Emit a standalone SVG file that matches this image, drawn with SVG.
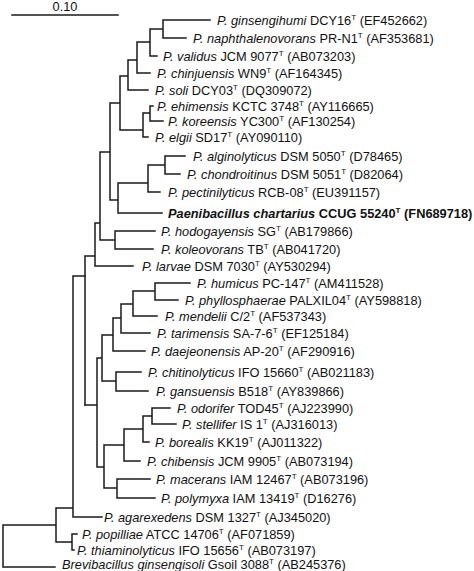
<svg xmlns="http://www.w3.org/2000/svg" width="474" height="571" viewBox="0 0 474 571">
<style>
text{font-family:"Liberation Sans",Arial,sans-serif;font-size:12.8px;fill:#111}
.i{font-style:italic}
.b{font-weight:bold}
.br{fill:none;stroke:#1a1a1a;stroke-width:1.5;stroke-linecap:square}
</style>
<rect width="474" height="571" fill="#fff"/>
<g id="scalebar">
<path class="br" d="M12 15H118"/>
<text x="65" y="11" text-anchor="middle">0.10</text>
</g>
<g id="connectors">
<path class="br" d="M163 20V38M163 20H210M163 38H186M150 29H163M150 29V56M150 56H157M137 42H150M137 42V73M137 73H150M128 60H137M128 60V90M128 90H148M120 76H128M150 106V121M150 106H153M150 121H163M143 113H150M143 113V137M143 137H148M120 130H143M120 76V130M110 103H120M165 156V174M165 156H185M165 174H180M148 165H165M148 165V192M148 192H160M118 183H148M118 183V213M118 213H162M110 200H118M110 103V200M100 152H110M115 231V249M115 231H155M115 249H153M100 240H115M100 152V240M95 223H100M95 223V266M95 266H133M85 256H95M85 256V405"/>
<path class="br" d="M155 283V300M155 283H190M155 300H178M133 291H155M133 291V316M133 316H157M121 304H133M121 304V333M121 333H150M113 318H121M113 318V351M113 351H145M102 335H113M116 372V391M116 372H141M116 391H148M102 381H116M102 335V381M97 358H102M152 408V424M152 408H170M152 424H176M143 416H152M143 416V442M143 442H149M124 429H143M124 429V461M124 461H140M104 445H124M117 479V498M117 479H150M117 498H155M104 488H117M104 445V488M97 467H104M97 358V467M85 405H97M73 276H85M73 276V517M73 517H102M56 508H73M72 534V550M72 534H77M72 550H74M56 542H72M56 508V542M3 525H56M3 525V567M3 567H55"/>
</g>
<g id="leaf01"><text x="217" y="24.5"><tspan class="i">P. ginsengihumi</tspan> DCY16<tspan font-size="8" dy="-5">T</tspan><tspan dy="5"> (EF452662)</tspan></text></g>
<g id="leaf02"><text x="193" y="42.5"><tspan class="i">P. naphthalenovorans</tspan> PR-N1<tspan font-size="8" dy="-5">T</tspan><tspan dy="5"> (AF353681)</tspan></text></g>
<g id="leaf03"><text x="163" y="60.5"><tspan class="i">P. validus</tspan> JCM 9077<tspan font-size="8" dy="-5">T</tspan><tspan dy="5"> (AB073203)</tspan></text></g>
<g id="leaf04"><text x="157" y="77.5"><tspan class="i">P. chinjuensis</tspan> WN9<tspan font-size="8" dy="-5">T</tspan><tspan dy="5"> (AF164345)</tspan></text></g>
<g id="leaf05"><text x="155" y="94.5"><tspan class="i">P. soli</tspan> DCY03<tspan font-size="8" dy="-5">T</tspan><tspan dy="5"> (DQ309072)</tspan></text></g>
<g id="leaf06"><text x="157" y="110.5"><tspan class="i">P. ehimensis</tspan> KCTC 3748<tspan font-size="8" dy="-5">T</tspan><tspan dy="5"> (AY116665)</tspan></text></g>
<g id="leaf07"><text x="168" y="125.5"><tspan class="i">P. koreensis</tspan> YC300<tspan font-size="8" dy="-5">T</tspan><tspan dy="5"> (AF130254)</tspan></text></g>
<g id="leaf08"><text x="155" y="141.5"><tspan class="i">P. elgii</tspan> SD17<tspan font-size="8" dy="-5">T</tspan><tspan dy="5"> (AY090110)</tspan></text></g>
<g id="leaf09"><text x="193" y="160.5"><tspan class="i">P. alginolyticus</tspan> DSM 5050<tspan font-size="8" dy="-5">T</tspan><tspan dy="5"> (D78465)</tspan></text></g>
<g id="leaf10"><text x="187" y="178.5"><tspan class="i">P. chondroitinus</tspan> DSM 5051<tspan font-size="8" dy="-5">T</tspan><tspan dy="5"> (D82064)</tspan></text></g>
<g id="leaf11"><text x="168" y="196.5"><tspan class="i">P. pectinilyticus</tspan> RCB-08<tspan font-size="8" dy="-5">T</tspan><tspan dy="5"> (EU391157)</tspan></text></g>
<g id="leaf12"><text x="168" y="217.5" class="b"><tspan class="i">Paenibacillus chartarius</tspan> CCUG 55240<tspan font-size="8" dy="-5">T</tspan><tspan dy="5"> (FN689718)</tspan></text></g>
<g id="leaf13"><text x="161" y="235.5"><tspan class="i">P. hodogayensis</tspan> SG<tspan font-size="8" dy="-5">T</tspan><tspan dy="5"> (AB179866)</tspan></text></g>
<g id="leaf14"><text x="161" y="253.5"><tspan class="i">P. koleovorans</tspan> TB<tspan font-size="8" dy="-5">T</tspan><tspan dy="5"> (AB041720)</tspan></text></g>
<g id="leaf15"><text x="142" y="270.5"><tspan class="i">P. larvae</tspan> DSM 7030<tspan font-size="8" dy="-5">T</tspan><tspan dy="5"> (AY530294)</tspan></text></g>
<g id="leaf16"><text x="197" y="287.5"><tspan class="i">P. humicus</tspan> PC-147<tspan font-size="8" dy="-5">T</tspan><tspan dy="5"> (AM411528)</tspan></text></g>
<g id="leaf17"><text x="185" y="304.5"><tspan class="i">P. phyllosphaerae</tspan> PALXIL04<tspan font-size="8" dy="-5">T</tspan><tspan dy="5"> (AY598818)</tspan></text></g>
<g id="leaf18"><text x="165" y="320.5"><tspan class="i">P. mendelii</tspan> C/2<tspan font-size="8" dy="-5">T</tspan><tspan dy="5"> (AF537343)</tspan></text></g>
<g id="leaf19"><text x="157" y="337.5"><tspan class="i">P. tarimensis</tspan> SA-7-6<tspan font-size="8" dy="-5">T</tspan><tspan dy="5"> (EF125184)</tspan></text></g>
<g id="leaf20"><text x="151" y="355.5"><tspan class="i">P. daejeonensis</tspan> AP-20<tspan font-size="8" dy="-5">T</tspan><tspan dy="5"> (AF290916)</tspan></text></g>
<g id="leaf21"><text x="148" y="376.5"><tspan class="i">P. chitinolyticus</tspan> IFO 15660<tspan font-size="8" dy="-5">T</tspan><tspan dy="5"> (AB021183)</tspan></text></g>
<g id="leaf22"><text x="156" y="395.5"><tspan class="i">P. gansuensis</tspan> B518<tspan font-size="8" dy="-5">T</tspan><tspan dy="5"> (AY839866)</tspan></text></g>
<g id="leaf23"><text x="177" y="412.5"><tspan class="i">P. odorifer</tspan> TOD45<tspan font-size="8" dy="-5">T</tspan><tspan dy="5"> (AJ223990)</tspan></text></g>
<g id="leaf24"><text x="182" y="428.5"><tspan class="i">P. stellifer</tspan> IS 1<tspan font-size="8" dy="-5">T</tspan><tspan dy="5"> (AJ316013)</tspan></text></g>
<g id="leaf25"><text x="155" y="446.5"><tspan class="i">P. borealis</tspan> KK19<tspan font-size="8" dy="-5">T</tspan><tspan dy="5"> (AJ011322)</tspan></text></g>
<g id="leaf26"><text x="147" y="465.5"><tspan class="i">P. chibensis</tspan> JCM 9905<tspan font-size="8" dy="-5">T</tspan><tspan dy="5"> (AB073194)</tspan></text></g>
<g id="leaf27"><text x="156" y="483.5"><tspan class="i">P. macerans</tspan> IAM 12467<tspan font-size="8" dy="-5">T</tspan><tspan dy="5"> (AB073196)</tspan></text></g>
<g id="leaf28"><text x="161" y="502.5"><tspan class="i">P. polymyxa</tspan> IAM 13419<tspan font-size="8" dy="-5">T</tspan><tspan dy="5"> (D16276)</tspan></text></g>
<g id="leaf29"><text x="104" y="521.5"><tspan class="i">P. agarexedens</tspan> DSM 1327<tspan font-size="8" dy="-5">T</tspan><tspan dy="5"> (AJ345020)</tspan></text></g>
<g id="leaf30"><text x="82" y="538.5"><tspan class="i">P. popilliae</tspan> ATCC 14706<tspan font-size="8" dy="-5">T</tspan><tspan dy="5"> (AF071859)</tspan></text></g>
<g id="leaf31"><text x="77" y="554.5"><tspan class="i">P. thiaminolyticus</tspan> IFO 15656<tspan font-size="8" dy="-5">T</tspan><tspan dy="5"> (AB073197)</tspan></text></g>
<g id="leaf32"><text x="62" y="568.5"><tspan class="i">Brevibacillus ginsengisoli</tspan> Gsoil 3088<tspan font-size="8" dy="-5">T</tspan><tspan dy="5"> (AB245376)</tspan></text></g>
</svg>
